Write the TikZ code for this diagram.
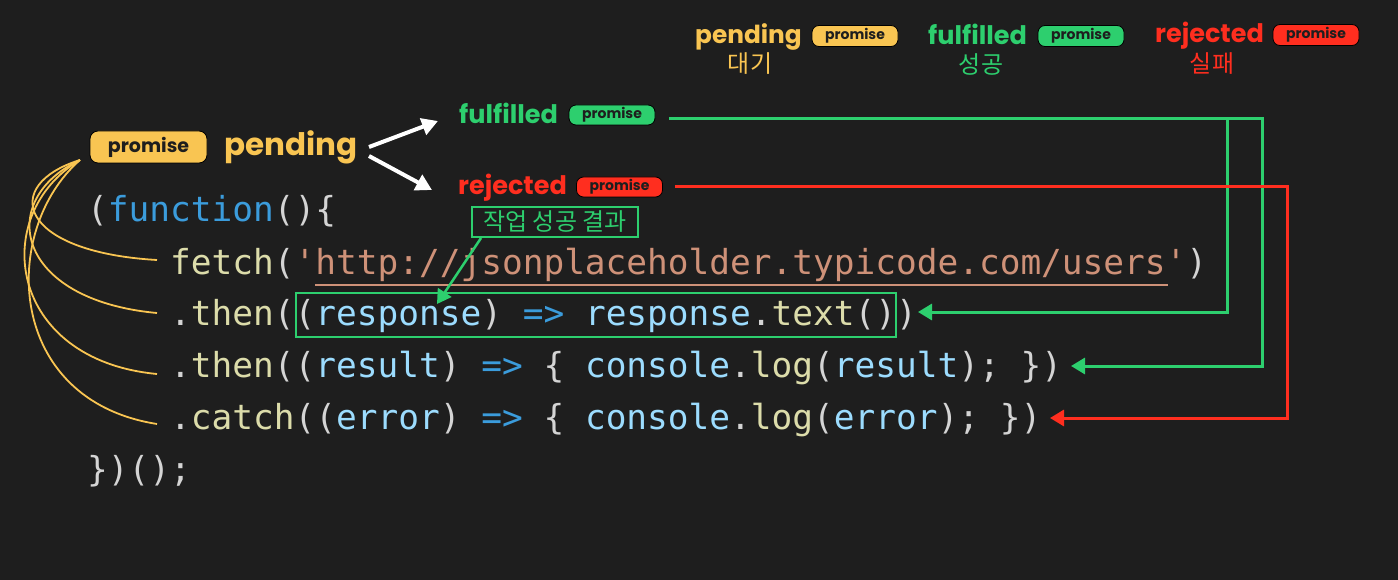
\documentclass[tikz,border=0pt]{standalone}
\usepackage{fontspec}
\usetikzlibrary{arrows.meta}
\newfontfamily\codefont{DejaVu Sans Mono}
\newfontfamily\popfont{Poppins}
\newfontfamily\krfont{Noto Sans CJK KR}
\definecolor{bg}{HTML}{1E1E1E}
\definecolor{cpunct}{HTML}{D4D4D4}
\definecolor{ckey}{HTML}{3B9CDC}
\definecolor{cfun}{HTML}{DCDCAA}
\definecolor{cstr}{HTML}{CE9178}
\definecolor{cvar}{HTML}{9CDCFE}
\definecolor{cyel}{HTML}{F9C552}
\definecolor{cgrn}{HTML}{2DCF6E}
\definecolor{cred}{HTML}{FF2E1F}
\newcommand\tokP[1]{\textcolor{cpunct}{#1}}
\newcommand\tokK[1]{\textcolor{ckey}{#1}}
\newcommand\tokF[1]{\textcolor{cfun}{#1}}
\newcommand\tokS[1]{\textcolor{cstr}{#1}}
\newcommand\tokV[1]{\textcolor{cvar}{#1}}
\tikzset{
  codeline/.style={anchor=base west, inner sep=0pt, font=\codefont\fontsize{34.45}{40}\selectfont\frenchspacing},
  poplab/.style={anchor=base west, inner sep=0pt, font=\popfont\bfseries\fontsize{25.5}{28}\selectfont},
  badge/.style={rounded corners=7pt, draw=black, line width=0.8pt, minimum width=86pt, minimum height=21pt, inner sep=0pt, font=\popfont\bfseries\fontsize{14}{15}\selectfont, text=bg},
  krlab/.style={inner sep=0pt, font=\krfont\fontsize{24}{28}\selectfont},
  gline/.style={draw=cgrn, line width=3pt},
  rline/.style={draw=cred, line width=3pt},
  gtip/.style={-{Triangle[length=14pt,width=16pt]}},
  warrow/.style={draw=white, line width=4pt, -{Triangle[length=16pt,width=17pt]}},
  ycurve/.style={draw=cyel, line width=1.8pt},
}
\begin{document}
\begin{tikzpicture}[x=1pt,y=-1pt]
\fill[bg] (0,0) rectangle (1398,580);
\useasboundingbox (0,0) rectangle (1398,580);

% legend
\node[poplab, text=cyel, font=\popfont\bfseries\fontsize{24.8}{28}\selectfont] (tpend) at (695,44) {pending};
\node[badge, fill=cyel] (tpendb) at (855,36) {promise};
\node[krlab, text=cyel] (tpendk) at (750,64) {대기};
\node[poplab, text=cgrn] (tful) at (928,45) {fulfilled};
\node[badge, fill=cgrn] (tfulb) at (1081,36) {promise};
\node[krlab, text=cgrn] (tfulk) at (981,64) {성공};
\node[poplab, text=cred] (trej) at (1155,43) {rejected};
\node[badge, fill=cred] (trejb) at (1316,35) {promise};
\node[krlab, text=cred] (trejk) at (1212,64) {실패};

% left promise pending
\node[badge, fill=cyel, minimum width=117pt, minimum height=32pt, rounded corners=8pt, font=\popfont\bfseries\fontsize{19}{20}\selectfont] (pbadge) at (148.5,147) {promise};
\node[poplab, text=cyel, font=\popfont\bfseries\fontsize{31}{34}\selectfont] (pend) at (224,156) {pending};

\node[poplab, text=cgrn] (ful) at (459,124) {fulfilled};
\node[badge, fill=cgrn, minimum height=20pt] (fulb) at (612,115) {promise};
\node[poplab, text=cred] (rej) at (458,195) {rejected};
\node[badge, fill=cred, minimum height=20pt] (rejb) at (619.5,187) {promise};

\coordinate (wa1s) at (369,147);
\coordinate (wa1e) at (438,121);
\coordinate (wa2s) at (369,156);
\coordinate (wa2e) at (432,190);
\draw[warrow] (wa1s) -- (wa1e);
\draw[warrow] (wa2s) -- (wa2e);

% code
\node[codeline] (l0) at (87,222) {\tokP{(}\tokK{function}\tokP{()\{}};
\node[codeline] (l1) at (170,274) {\tokF{fetch}\tokP{(}\tokS{\textquotesingle http://jsonplaceholder.typicode.com/users\textquotesingle}\tokP{)}};
\node[codeline] (l2) at (170,325) {\tokP{.}\tokF{then}\tokP{((}\tokV{response}\tokP{)} \tokK{=>} \tokV{response}\tokP{.}\tokF{text}\tokP{())}};
\node[codeline] (l3) at (170,377) {\tokP{.}\tokF{then}\tokP{((}\tokV{result}\tokP{)} \tokK{=>} \tokP{\{} \tokV{console}\tokP{.}\tokF{log}\tokP{(}\tokV{result}\tokP{);} \tokP{\})}};
\node[codeline] (l4) at (170,429) {\tokP{.}\tokF{catch}\tokP{((}\tokV{error}\tokP{)} \tokK{=>} \tokP{\{} \tokV{console}\tokP{.}\tokF{log}\tokP{(}\tokV{error}\tokP{);} \tokP{\})}};
\node[codeline] (l5) at (87,481) {\tokP{\})();}};

% string underline
\coordinate (ul1) at (315,285);
\coordinate (ul2) at (1168,285);
\draw[cstr, line width=1.5pt] (ul1) -- (ul2);

% response box and label
\node[draw=cgrn, line width=2.5pt, minimum width=600pt, minimum height=44pt, inner sep=0pt] (respbox) at (596,315) {};
\node[draw=cgrn, line width=2pt, text=cgrn, minimum width=166pt, minimum height=30pt, inner sep=0pt, font=\krfont\fontsize{24}{26}\selectfont] (lbl) at (555,222) {작업 성공 결과};
\coordinate (resptip) at (437,304);
\draw[gline, line width=2.5pt, gtip] ([xshift=10pt]lbl.south west) -- (resptip);

% connectors
\coordinate (tip2) at (918,312);
\coordinate (tip3) at (1071,366);
\coordinate (tip4) at (1050,418);
\coordinate (gsplit) at (1227,119);
\draw[gline, gtip] ([xshift=14pt,yshift=-4pt]fulb.east) -| ([xshift=191pt]tip3) -- (tip3);
\draw[gline, gtip] (gsplit) |- (tip2);
\draw[rline, -{Triangle[length=14pt,width=16pt]}] ([xshift=12pt]rejb.east) -| ([xshift=237pt]tip4) -- (tip4);

% yellow curves
\coordinate (ys) at (80,160);
\coordinate (ye1) at (157,260);
\coordinate (ye2) at (157,313);
\coordinate (ye3) at (157,374);
\coordinate (ye4) at (157,424);
\draw[ycurve] (ys) .. controls (0,185) and (18,252) .. (ye1);
\draw[ycurve] (ys) .. controls (-5,200) and (15,300) .. (ye2);
\draw[ycurve] (ys) .. controls (-12,215) and (8,360) .. (ye3);
\draw[ycurve] (ys) .. controls (0,230) and (5,400) .. (ye4);
\end{tikzpicture}
\end{document}
